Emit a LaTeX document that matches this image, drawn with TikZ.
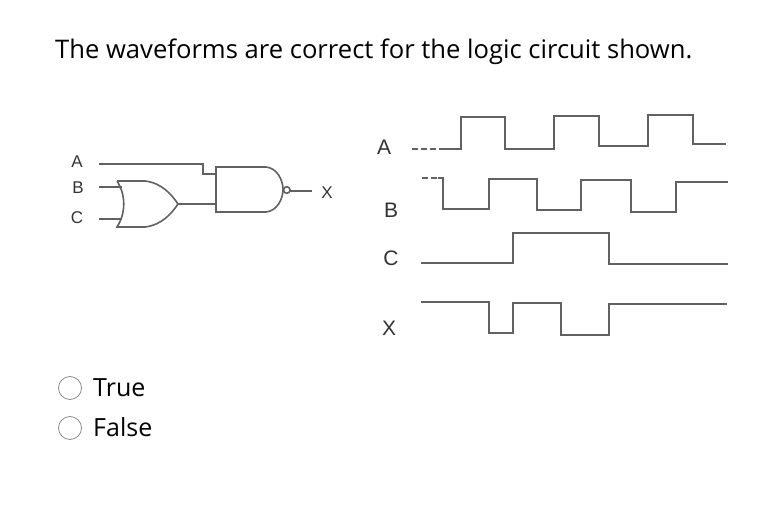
\documentclass[tikz,border=0pt]{standalone}
\usepackage{fontspec}
\setmainfont{Open Sans}
\newfontfamily\lblfont{Liberation Sans}
\begin{document}
\begin{tikzpicture}[x=1pt,y=-1pt,
  wire/.style={draw=black!62,line width=1.6pt,line join=miter},
  lbl/.style={font=\lblfont\fontsize{21}{21}\selectfont,text=black!80,inner sep=0pt},
  clbl/.style={font=\lblfont\fontsize{17}{17}\selectfont,text=black!80,inner sep=0pt},
  radio/.style={draw=black!45,line width=0.8pt,fill=white}]
\useasboundingbox (0,0) rectangle (776,510);
\node[anchor=base west,inner sep=0pt,font=\fontsize{25.6}{26}\selectfont] (title) at (55,59) {The waveforms are correct for the logic circuit shown.};
% circuit
\node[clbl] (la) at (77,162) {A};
\node[clbl] (lb) at (78,188) {B};
\node[clbl] (lc) at (77,218) {C};
\node[clbl] (lx) at (327,193) {X};
\draw[wire] (99,164) -- (203,164) -- (203,174) -- (216,174);
\draw[wire] (99,187) -- (122,187);
\draw[wire] (99,219) -- (122,219);
\draw[wire] (117,181) -- (145,181) .. controls (162,183) and (172,195) .. (178,204)
  .. controls (172,213) and (162,225) .. (145,227) -- (117,227)
  .. controls (126,213) and (126,195) .. (117,181);
\draw[wire] (178,204) -- (216,204);
\draw[wire] (216,167) -- (266,167) .. controls (277,168) and (283,180) .. (283,189.5)
  .. controls (283,199) and (277,211) .. (266,212) -- (216,212) -- cycle;
\draw[wire] (286.8,190) circle (3.3);
\draw[wire] (290,191) -- (312,191);
% waveforms
\node[lbl] (wa) at (384,147) {A};
\node[lbl] (wb) at (391,210) {B};
\node[lbl] (wc) at (391,258) {C};
\node[lbl] (wx) at (389,328) {X};
\draw[wire,dash pattern=on 6pt off 3pt,line width=1.2pt] (412,149) -- (440,149);
\draw[wire] (440,149) -- (461,149) -- (461,117) -- (505,117) -- (505,149) -- (554,149) -- (554,116) -- (599,116) -- (599,146) -- (648,146) -- (648,115) -- (693,115) -- (693,144) -- (726,144);
\draw[wire,dash pattern=on 6pt off 3pt,line width=1.2pt] (422,178) -- (438,178);
\draw[wire] (438,178) -- (443,178) -- (443,209) -- (489,209) -- (489,179) -- (537,179) -- (537,210) -- (581,210) -- (581,180) -- (631,180) -- (631,212) -- (676,212) -- (676,182) -- (728,182);
\draw[wire] (421,263) -- (513,263) -- (513,233) -- (609,233) -- (609,264) -- (728,264);
\draw[wire] (421,302) -- (489,302) -- (489,333) -- (513,333) -- (513,303) -- (561,303) -- (561,335) -- (609,335) -- (609,304) -- (727,304);
% options
\draw[radio] (70,388) circle (11.5);
\draw[radio] (70,428) circle (11.5);
\node[anchor=base west,inner sep=0pt,font=\fontsize{25}{26}\selectfont] (t) at (93,396) {True};
\node[anchor=base west,inner sep=0pt,font=\fontsize{25}{26}\selectfont] (f) at (93,436) {False};
\end{tikzpicture}
\end{document}
